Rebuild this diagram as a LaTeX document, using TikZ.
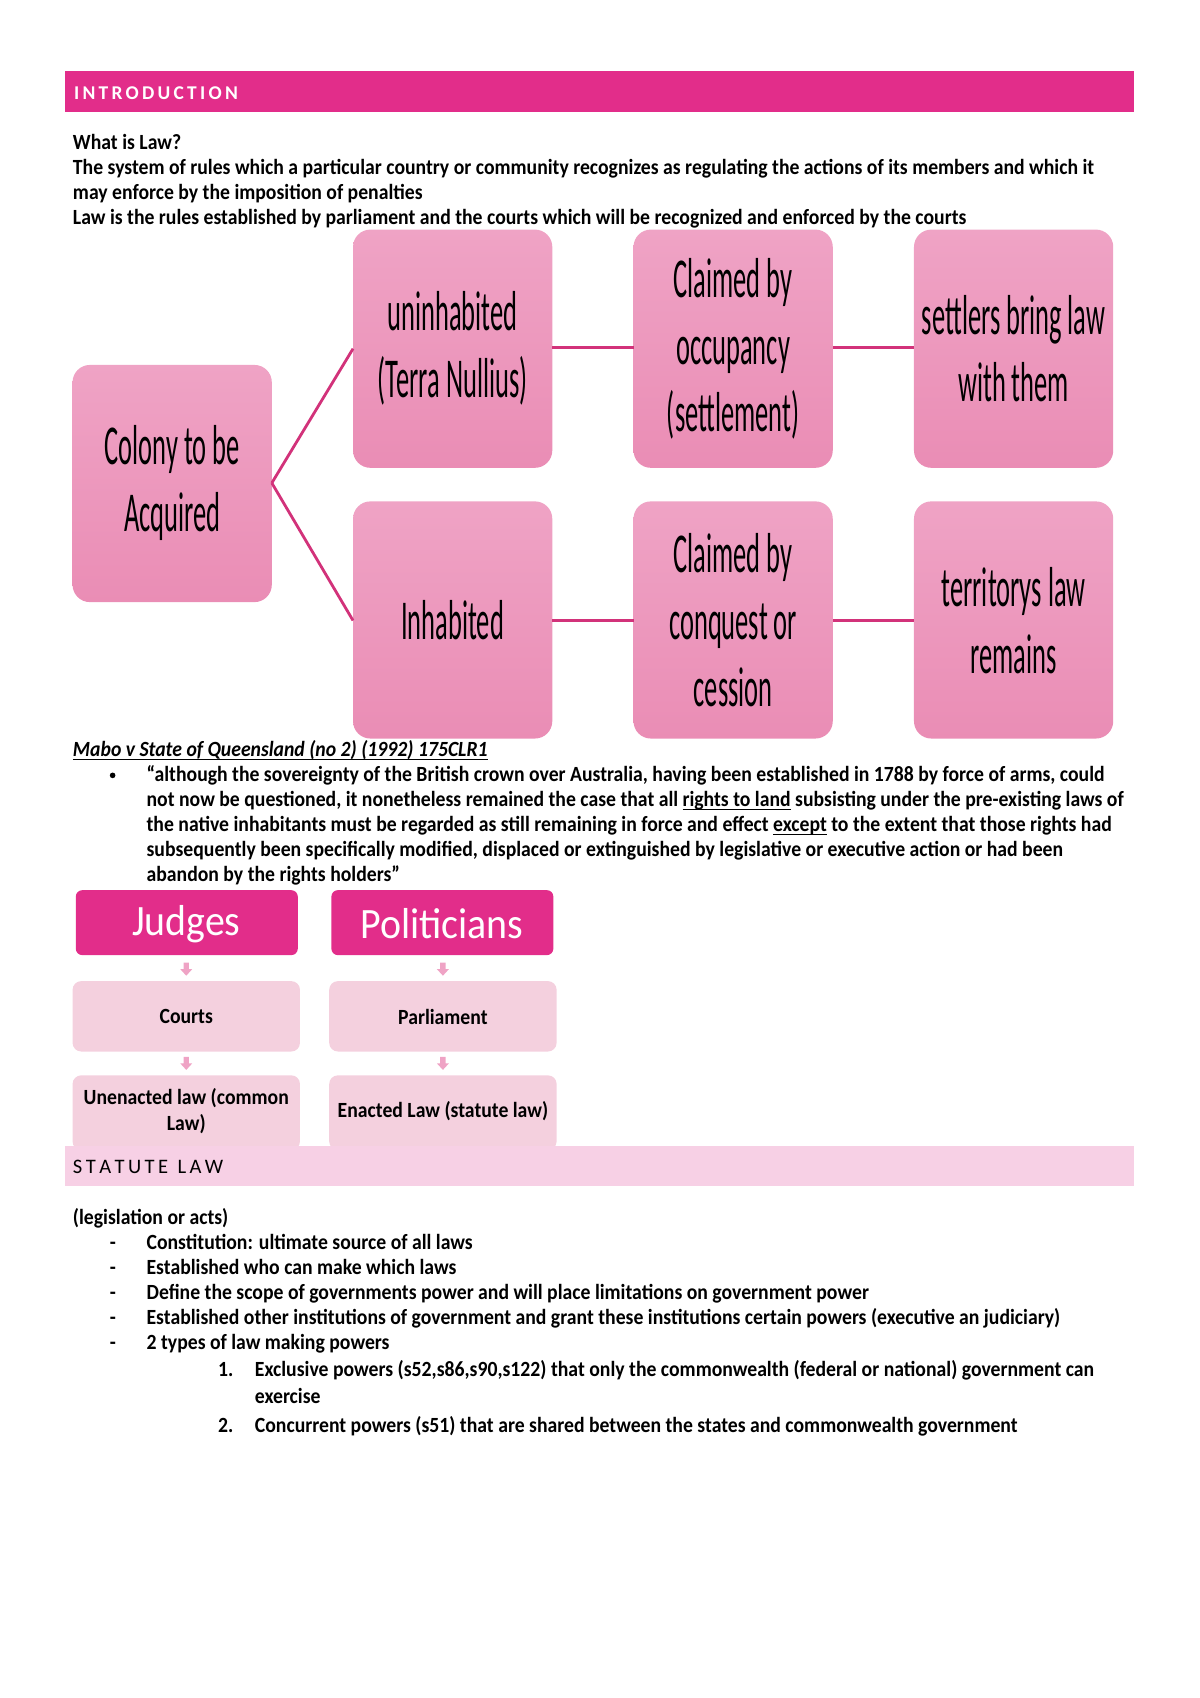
\documentclass[tikz,border=0pt]{standalone}
\usepackage{fontspec}
\setmainfont{Carlito}
\newfontfamily\cond[FakeStretch=0.47]{Carlito}
\newfontfamily\semi[FakeStretch=0.91]{Carlito}
\newfontfamily\mids[FakeStretch=0.92]{Carlito}
\newcommand\myul[1]{\setbox0\hbox{#1}\rlap{\rule[-1.6pt]{\wd0}{0.5pt}}\box0\relax}
\definecolor{hot}{HTML}{E22D8A}
\definecolor{mid}{HTML}{EFA3C5}
\definecolor{midd}{HTML}{EA8DB5}
\definecolor{lite}{HTML}{F4D0DE}
\definecolor{band}{HTML}{F7D0E5}
\definecolor{line}{HTML}{D2327A}
\definecolor{arr}{HTML}{EFA3C5}
\begin{document}
\begin{tikzpicture}[x=0.5pt,y=-0.5pt,
 bigbox/.style={rounded corners=8pt,top color=mid,bottom color=midd,draw=none},
 bt/.style={anchor=base west,inner sep=0pt,font=\semi\bfseries\fontsize{10}{11}\selectfont},
 cb/.style={align=center,font=\cond\fontsize{26}{31}\selectfont},
 hbox/.style={rounded corners=3pt,fill=hot},
 lbox/.style={rounded corners=4pt,fill=lite},
 conn/.style={draw=line,line width=1.3pt},
 sarr/.style={fill=arr,draw=none}]
\useasboundingbox (0,0) rectangle (1108,1568);
\fill[hot] (60,66) rectangle (1047,103);
\node[anchor=west,inner sep=0pt,text=white,font=\bfseries\fontsize{9}{10}\selectfont] at (68,86) {I\,N\,T\,R\,O\,D\,U\,C\,T\,I\,O\,N};
\node[bt] at (67,138) {What is Law?};
\node[bt] at (67,161) {The system of rules which a particular country or community recognizes as regulating the actions of its members and which it};
\node[bt] at (67,184) {may enforce by the imposition of penalties};
\node[bt] at (67,207) {Law is the rules established by parliament and the courts which will be recognized and enforced by the courts};
% diagram
\path[bigbox] (67,337) rectangle (251,556); \node[cb] (c) at (159,446) {Colony to be\\Acquired};
\path[bigbox] (326,212) rectangle (510,432); \node[cb] (u) at (418,322) {uninhabited\\(Terra Nullius)};
\path[bigbox] (585,212) rectangle (769,432); \node[cb] (o) at (677,322) {Claimed by\\occupancy\\(settlement)};
\path[bigbox] (844,212) rectangle (1028,432); \node[cb] (s) at (936,322) {settlers bring law\\with them};
\path[bigbox] (326,463) rectangle (510,682); \node[cb] (i) at (418,573) {Inhabited};
\path[bigbox] (585,463) rectangle (769,682); \node[cb] (q) at (677,573) {Claimed by\\conquest or\\cession};
\path[bigbox] (844,463) rectangle (1028,682); \node[cb] (t) at (936,573) {territorys law\\remains};
\coordinate (cr) at (251,446);
\draw[conn] (cr) -- (326,322) (cr) -- (326,573);
\draw[conn] (510,321) -- (585,321) (769,321) -- (844,321);
\draw[conn] (510,573) -- (585,573) (769,573) -- (844,573);
% Mabo
\node[bt,font=\semi\bfseries\itshape\fontsize{10}{11}\selectfont] at (67,699) {\myul{Mabo v State of Queensland (no 2) (1992) 175CLR1}};
\fill (104,716) circle (2.6);
\node[bt] at (135,722) {“although the sovereignty of the British crown over Australia, having been established in 1788 by force of arms, could};
\node[bt] at (135,745) {not now be questioned, it nonetheless remained the case that all \myul{rights to land} subsisting under the pre-existing laws of};
\node[bt] at (135,768) {the native inhabitants must be regarded as still remaining in force and effect \myul{except} to the extent that those rights had};
\node[bt] at (135,791) {subsequently been specifically modified, displaced or extinguished by legislative or executive action or had been};
\node[bt] at (135,814) {abandon by the rights holders”};
% Judges / Politicians
\path[hbox] (70,822) rectangle (275,882); \node[text=white,font=\mids\fontsize{20}{24}\selectfont] (j) at (172,853) {Judges};
\path[hbox] (306,822) rectangle (511,882); \node[text=white,font=\mids\fontsize{20}{24}\selectfont] (p) at (408,853) {Politicians};
\path[lbox] (67,906) rectangle (277,971); \node[font=\semi\bfseries\fontsize{10}{12}\selectfont] (co) at (172,939) {Courts};
\path[lbox] (304,906) rectangle (514,971); \node[font=\semi\bfseries\fontsize{10}{12}\selectfont] (pa) at (409,939) {Parliament};
\path[lbox] (67,993) rectangle (277,1062); \node[align=center,font=\semi\bfseries\fontsize{10}{12}\selectfont] (un) at (172,1026) {Unenacted law (common\\Law)};
\path[lbox] (304,993) rectangle (514,1062); \node[font=\semi\bfseries\fontsize{10}{12}\selectfont] (en) at (409,1026) {Enacted Law (statute law)};
\foreach \x/\y in {172/889,409/889,172/976,409/976}{
 \path[sarr] (\x-2.5,\y) -- (\x+2.5,\y) -- (\x+2.5,\y+6) -- (\x+5.5,\y+6) -- (\x,\y+12) -- (\x-5.5,\y+6) -- (\x-2.5,\y+6) -- cycle;}
\fill[band] (60,1058) rectangle (1047,1095);
\node[anchor=west,inner sep=0pt,font=\fontsize{9.5}{10}\selectfont] at (67,1078) {S\,T\,A\,T\,U\,T\,E\ \ L\,A\,W};
\node[bt] at (67,1131) {(legislation or acts)};
\foreach \y/\t in {1154/{Constitution: ultimate source of all laws},1177/{Established who can make which laws},1200/{Define the scope of governments power and will place limitations on government power},1223/{Established other institutions of government and grant these institutions certain powers (executive an judiciary)},1246/{2 types of law making powers}}{
 \node[bt] at (101,\y) {-}; \node[bt] at (135,\y) {\t};}
\node[bt] at (201,1271) {1.}; \node[bt] at (235,1271) {Exclusive powers (s52,s86,s90,s122) that only the commonwealth (federal or national) government can};
\node[bt] at (235,1296) {exercise};
\node[bt] at (201,1323) {2.}; \node[bt] at (235,1323) {Concurrent powers (s51) that are shared between the states and commonwealth government};
\end{tikzpicture}
\end{document}
